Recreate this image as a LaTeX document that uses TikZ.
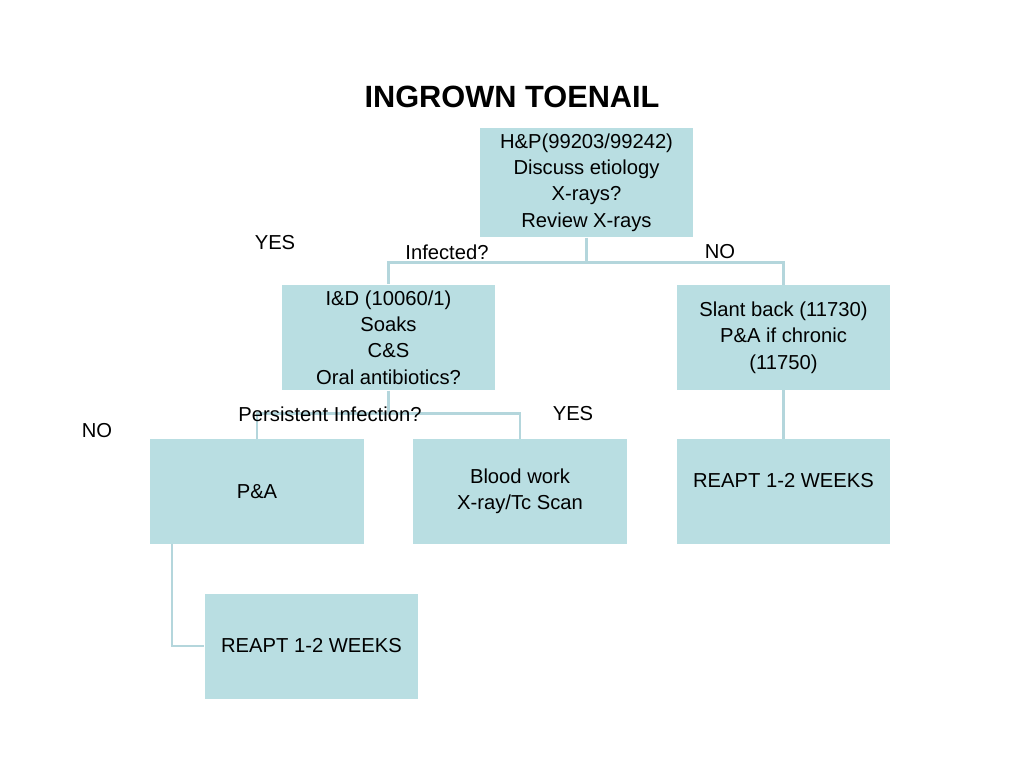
\documentclass[tikz,border=0pt]{standalone}
\usepackage{fontspec}
\setmainfont{Liberation Sans}
\definecolor{boxfill}{RGB}{185,222,226}
\definecolor{linkcol}{RGB}{180,214,220}
\tikzset{box/.style = {fill=boxfill, rectangle, minimum height=2.1cm, minimum width=4.27cm, align=center, font=\fontsize{11.5}{15}\selectfont},
         link/.style = {draw=linkcol, line width=1.6pt},
         lbl/.style = {font=\fontsize{11.5}{14}\selectfont}}
\begin{document}
\begin{tikzpicture}[x=0.02cm,y=-0.02cm]
        \useasboundingbox(0,0)rectangle(1024,768);
        \node[font=\bfseries\fontsize{17.5}{20}\selectfont](title)at(512,97){INGROWN TOENAIL};
        \node[box](top)at(586.5,182.5){H\&P(99203/99242)\\Discuss etiology\\X-rays?\\Review X-rays};
        \node[box](idd)at(388.5,337.5){I\&D (10060/1)\\Soaks\\C\&S\\Oral antibiotics?};
        \node[box](slant)at(783.5,337.5){Slant back (11730)\\P\&A if chronic\\(11750)};
        \node[box](pa)at(257,491.5){P\&A};
        \node[box](blood)at(520,491.5){Blood work\\X-ray/Tc Scan};
        \node[box,anchor=north,inner ysep=0pt,text height=0.96cm,text depth=1.14cm](reaptr)at(783.5,439){REAPT 1-2 WEEKS};
        \node[box](reaptl)at(311.5,646){REAPT 1-2 WEEKS};
        \draw[link](top.south)--++(0,25)coordinate(j1);
        \draw[link](j1)-|(idd.north);
        \draw[link](j1)-|(slant.north);
        \draw[link](idd.south)--++(0,23)coordinate(j2);
        \draw[link](j2)-|(pa.north);
        \draw[link](j2)-|(blood.north);
        \draw[link](slant.south)--(reaptr.north);
        \coordinate(k)at(172,544);
        \draw[link](k)|-(reaptl.west);
        \node[lbl](yes1)at(275,243){YES};
        \node[lbl](inf)at(447,252){Infected?};
        \node[lbl](no1)at(720,252){NO};
        \node[lbl](pers)at(330,414){Persistent Infection?};
        \node[lbl](yes2)at(573,414){YES};
        \node[lbl](no2)at(97,431){NO};
    \end{tikzpicture}
\end{document}
